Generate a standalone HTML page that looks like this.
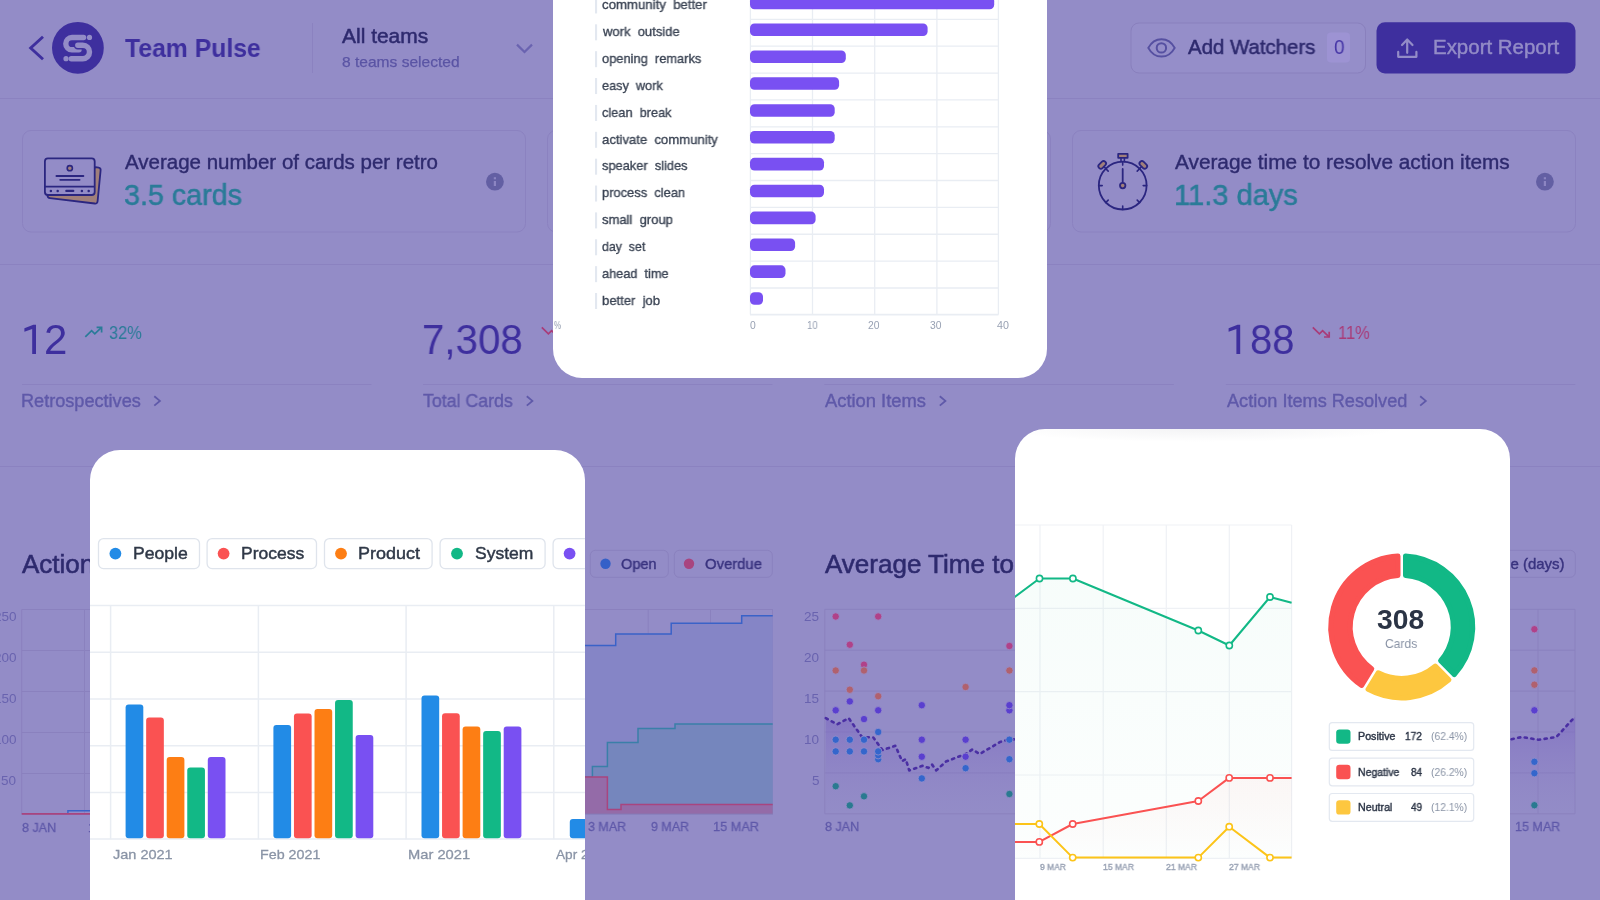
<!DOCTYPE html>
<html><head><meta charset="utf-8"><title>Team Pulse</title>
<style>
html,body{margin:0;padding:0}
body{width:1600px;height:900px;overflow:hidden;background:#938cc7;position:relative;font-family:"Liberation Sans",sans-serif}
.t{position:absolute;white-space:pre;line-height:1;transform-origin:0 0;display:block;will-change:transform}
svg.l{position:absolute;left:0;top:0;width:1600px;height:900px;overflow:visible}
i.mk{display:inline-block;width:0;height:0}
.panel{position:absolute;overflow:hidden;background:#fff}
.panel>.in{position:absolute;width:1600px;height:900px}
#p1{left:553px;top:-40px;width:494.4px;height:418.2px;border-radius:0 0 29px 29px}
#p1>.in{left:-553px;top:40px}
#p2{left:90px;top:450px;width:495px;height:460px;border-radius:30px 30px 0 0}
#p2>.in{left:-90px;top:-450px}
#p3{left:1015px;top:429.3px;width:495.3px;height:480px;border-radius:30px 30px 0 0}
#p3>.in{left:-1015px;top:-429.3px}
</style></head><body>
<svg class="l" viewBox="0 0 1600 900"><defs><linearGradient id="gtrend" x1="0" y1="0" x2="0" y2="1"><stop offset="0" stop-color="#7a66c0" stop-opacity=".55"/><stop offset="1" stop-color="#8a7cc4" stop-opacity="0"/></linearGradient><linearGradient id="ggreen" x1="0" y1="0" x2="0" y2="1"><stop offset="0" stop-color="#12b886" stop-opacity=".035"/><stop offset="1" stop-color="#12b886" stop-opacity=".012"/></linearGradient><linearGradient id="gred" x1="0" y1="0" x2="0" y2="1"><stop offset="0" stop-color="#fa5252" stop-opacity=".045"/><stop offset="1" stop-color="#fa5252" stop-opacity="0"/></linearGradient></defs>
<line x1="0" y1="98.5" x2="1600" y2="98.5" stroke="#8b82c0" stroke-width="1"/>
<polyline points="43,36.8 30.7,48 43,59.2" fill="none" stroke="#3e2f9e" stroke-width="2.9"/>
<circle cx="77.9" cy="47.8" r="25.9" fill="#3e2f9e"/>
<g fill="none" stroke-linecap="round" stroke-width="5.4"><path d="M83.6,37.5 H71.95 A6.15,6.15 0 0 0 71.95,49.8 H79" stroke="#938cc7"/><path d="M71.3,58.7 H82.75 A6.75,6.75 0 0 0 82.75,45.2 H77.8" stroke="#3e2f9e" stroke-width="8.4"/><path d="M71.3,58.7 H82.75 A6.75,6.75 0 0 0 82.75,45.2 H77.8" stroke="#938cc7"/></g>
<circle cx="89.5" cy="37.4" r="2.6" fill="#938cc7"/><circle cx="66" cy="58.7" r="2.6" fill="#938cc7"/>
<line x1="312.5" y1="23" x2="312.5" y2="73" stroke="#8b82c0" stroke-width="1"/>
<polyline points="517,44.6 524.5,52 532,44.6" fill="none" stroke="#6a63b0" stroke-width="2.2"/>
<rect x="1131" y="23" width="234.5" height="50" rx="8" fill="#958ec9" stroke="#8980bd" stroke-width="1"/>
<g fill="none" stroke="#5650a1" stroke-width="2"><path d="M1148.3,47.9 C1152,41 1157,39.2 1161.5,39.2 C1166,39.2 1171,41 1174.7,47.9 C1171,54.8 1166,56.6 1161.5,56.6 C1157,56.6 1152,54.8 1148.3,47.9 Z"/><circle cx="1161.4" cy="47.9" r="4.7"/></g>
<rect x="1327" y="32.5" width="23" height="30" rx="4" fill="#9d93d3"/>
<rect x="1376.5" y="22.3" width="199" height="51.2" rx="8.5" fill="#3e2f9e"/>
<g fill="none" stroke="#938cc7" stroke-width="2.2" stroke-linejoin="round" stroke-linecap="round"><path d="M1407.2,52.8 V39.6 M1402,45 L1407.2,39.6 L1412.5,45"/><path d="M1398.2,51.9 V56.8 H1416.4 V51.9"/></g>
<rect x="22.5" y="130.5" width="503" height="101.5" rx="8.5" fill="none" stroke="#8b82c0" stroke-width="1"/>
<rect x="547.5" y="130.5" width="503" height="101.5" rx="8.5" fill="none" stroke="#8b82c0" stroke-width="1"/>
<rect x="1072.5" y="130.5" width="503" height="101.5" rx="8.5" fill="none" stroke="#8b82c0" stroke-width="1"/>
<line x1="0" y1="264.5" x2="1600" y2="264.5" stroke="#8b82c0" stroke-width="1"/>
<line x1="0" y1="466.5" x2="1600" y2="466.5" stroke="#8b82c0" stroke-width="1"/>
<g stroke="#2b2680" stroke-width="1.8" stroke-linejoin="round"><path d="M95.6,167.2 L98.6,167.6 Q100.9,168 100.6,170.4 L97.6,201.2 Q97.3,203.8 94.8,203.5 L50,198.2 Q47.6,197.9 47.5,195.8 Z" fill="#a07f7b"/><rect x="44.9" y="158.4" width="49.8" height="36.6" rx="3" fill="#938cc7"/><line x1="44.9" y1="186.6" x2="94.7" y2="186.6"/><circle cx="69.8" cy="168.2" r="2.6" fill="#a07f7b" stroke-width="1.6"/><line x1="56.4" y1="176" x2="83.4" y2="176" stroke-linecap="round" stroke-width="1.8"/><line x1="60.2" y1="179.8" x2="79.6" y2="179.8" stroke-linecap="round" stroke-width="1.8"/><line x1="66.3" y1="190.9" x2="73.3" y2="190.9" stroke-linecap="round" stroke-width="2.2"/></g>
<circle cx="50.9" cy="190.9" r="1.25" fill="#2b2680"/>
<circle cx="57.7" cy="190.9" r="1.25" fill="#2b2680"/>
<circle cx="81.9" cy="190.9" r="1.25" fill="#2b2680"/>
<circle cx="88.7" cy="190.9" r="1.25" fill="#2b2680"/>
<circle cx="494.9" cy="181.7" r="8.9" fill="#635fa3"/><rect x="493.79999999999995" y="181" width="2.2" height="5" fill="#8c85c2"/><rect x="493.79999999999995" y="177.2" width="2.2" height="2.1" fill="#8c85c2"/>
<circle cx="1544.9" cy="181.7" r="8.9" fill="#635fa3"/><rect x="1543.8000000000002" y="181" width="2.2" height="5" fill="#8c85c2"/><rect x="1543.8000000000002" y="177.2" width="2.2" height="2.1" fill="#8c85c2"/>
<g stroke="#2b2680" stroke-width="1.8" fill="none" stroke-linecap="round"><circle cx="1122.7" cy="185.6" r="23.9"/><rect x="1118.2" y="153.8" width="9.4" height="4" fill="#a07f7b" stroke-linejoin="round"/><path d="M1121,158.5 V161.6 M1124.4,158.5 V161.6" stroke-width="1.6"/><line x1="1122.7" y1="168.9" x2="1122.7" y2="181.8"/><circle cx="1122.7" cy="185.6" r="2.7" fill="#a07f7b"/><line x1="1143.2" y1="185.6" x2="1146.6" y2="185.6" stroke-width="1.6"/><line x1="1137.2" y1="200.1" x2="1139.6" y2="202.5" stroke-width="1.6"/><line x1="1122.7" y1="206.1" x2="1122.7" y2="209.5" stroke-width="1.6"/><line x1="1108.2" y1="200.1" x2="1105.8" y2="202.5" stroke-width="1.6"/><line x1="1102.2" y1="185.6" x2="1098.8" y2="185.6" stroke-width="1.6"/><line x1="1108.2" y1="171.1" x2="1105.8" y2="168.7" stroke-width="1.6"/><line x1="1122.7" y1="165.1" x2="1122.7" y2="161.7" stroke-width="1.6"/><line x1="1137.2" y1="171.1" x2="1139.6" y2="168.7" stroke-width="1.6"/><g transform="translate(1102.2,164.9) rotate(-45)"><rect x="-4.3" y="-2.4" width="8.6" height="4.8" rx="2.2" fill="#a07f7b"/><line x1="0" y1="2.6" x2="0" y2="6" stroke-width="1.6"/></g><g transform="translate(1143.3,164.9) rotate(45)"><rect x="-4.3" y="-2.4" width="8.6" height="4.8" rx="2.2" fill="#a07f7b"/><line x1="0" y1="2.6" x2="0" y2="6" stroke-width="1.6"/></g></g>
<polygon points="36,324.7 33.4,324.7 24.4,328.3 24.4,331.8 32.2,328.9 32.2,353.9 36,353.9" fill="#3e2f9e"/>
<polygon points="1240.2,324.7 1237.6000000000001,324.7 1228.6000000000001,328.3 1228.6000000000001,331.8 1236.4,328.9 1236.4,353.9 1240.2,353.9" fill="#3e2f9e"/>
<line x1="22" y1="384.5" x2="371.5" y2="384.5" stroke="#8b82c0" stroke-width="1"/>
<line x1="423" y1="384.5" x2="772.5" y2="384.5" stroke="#8b82c0" stroke-width="1"/>
<line x1="824.3" y1="384.5" x2="1173.8" y2="384.5" stroke="#8b82c0" stroke-width="1"/>
<line x1="1225.8" y1="384.5" x2="1575.3" y2="384.5" stroke="#8b82c0" stroke-width="1"/>
<g fill="none" stroke="#2a7b98" stroke-width="1.7"><polyline points="85.3,336.8 91.6,330.6 94.8,333.8 101.3,327.6"/><polyline points="96.6,327.4 101.6,327.4 101.6,332.4"/></g>
<g fill="none" stroke="#a93b78" stroke-width="1.7"><polyline points="1312.8,327.4 1319.4,333.8 1322.6,330.6 1329,336.9"/><polyline points="1324,337 1329.2,337 1329.2,331.8"/><polyline points="541.8,327.4 548.4,333.8 551.6,330.6 558,336.9"/></g>
<polyline points="154.3,396.2 159.9,400.9 154.3,405.6" fill="none" stroke="#5f59a9" stroke-width="1.8"/>
<polyline points="526.8,396.2 532.4,400.9 526.8,405.6" fill="none" stroke="#5f59a9" stroke-width="1.8"/>
<polyline points="939.8,396.2 945.4,400.9 939.8,405.6" fill="none" stroke="#5f59a9" stroke-width="1.8"/>
<polyline points="1420.2,396.2 1425.8,400.9 1420.2,405.6" fill="none" stroke="#5f59a9" stroke-width="1.8"/>
<line x1="21.7" y1="609.5" x2="773" y2="609.5" stroke="#8a81be" stroke-width="1"/>
<line x1="21.7" y1="650.5" x2="773" y2="650.5" stroke="#8a81be" stroke-width="1"/>
<line x1="21.7" y1="691.5" x2="773" y2="691.5" stroke="#8a81be" stroke-width="1"/>
<line x1="21.7" y1="732.5" x2="773" y2="732.5" stroke="#8a81be" stroke-width="1"/>
<line x1="21.7" y1="773.5" x2="773" y2="773.5" stroke="#8a81be" stroke-width="1"/>
<line x1="21.7" y1="814.5" x2="773" y2="814.5" stroke="#8a81be" stroke-width="1"/>
<line x1="21.7" y1="609.5" x2="21.7" y2="814" stroke="#8a81be" stroke-width="1"/>
<line x1="84.5" y1="609.5" x2="84.5" y2="814" stroke="#8a81be" stroke-width="1"/>
<line x1="648.2" y1="609.5" x2="648.2" y2="814" stroke="#8a81be" stroke-width="1"/>
<line x1="710.5" y1="609.5" x2="710.5" y2="814" stroke="#8a81be" stroke-width="1"/>
<line x1="772.5" y1="609.5" x2="772.5" y2="814" stroke="#8a81be" stroke-width="1"/>
<polyline points="67.9,814 67.9,810.7 92,810.7" fill="none" stroke="#3a62c8" stroke-width="1.4"/>
<line x1="21.7" y1="813.9" x2="92" y2="813.9" stroke="#a8457f" stroke-width="1.6"/>
<rect x="590.3" y="550.3" width="78" height="27" rx="5" fill="none" stroke="#8a81be" stroke-width="1"/><circle cx="605.5" cy="563.7" r="5.2" fill="#3560c8"/>
<rect x="674.3" y="550.3" width="98" height="27" rx="5" fill="none" stroke="#8a81be" stroke-width="1"/><circle cx="689" cy="563.7" r="5.2" fill="#a8457f"/>
<polygon points="560,645.4 615.7,645.4 615.7,634 671.2,634 671.2,623.2 741.7,623.2 741.7,615.7 772.7,615.7 772.7,813.7 560,813.7" fill="#8585c6"/><polyline points="560,645.4 615.7,645.4 615.7,634 671.2,634 671.2,623.2 741.7,623.2 741.7,615.7 772.7,615.7" fill="none" stroke="#3a62c8" stroke-width="1.5"/>
<polygon points="560,777 592.4,777 592.4,766.6 607.4,766.6 607.4,742.4 638,742.4 638,728.6 675,728.6 675,724 772.7,724 772.7,813.7 560,813.7" fill="#7586bd"/><polyline points="560,777 592.4,777 592.4,766.6 607.4,766.6 607.4,742.4 638,742.4 638,728.6 675,728.6 675,724 772.7,724" fill="none" stroke="#3a7fa8" stroke-width="1.5"/>
<polygon points="560,777 607.4,777 607.4,809.4 621,809.4 621,804.6 772.7,804.6 772.7,813.7 560,813.7" fill="#946ba8"/><polyline points="560,777 607.4,777 607.4,809.4 621,809.4 621,804.6 772.7,804.6" fill="none" stroke="#a8457f" stroke-width="1.5"/>
<line x1="824.8" y1="609.3" x2="1575" y2="609.3" stroke="#8a81be" stroke-width="1"/>
<line x1="824.8" y1="650.2" x2="1575" y2="650.2" stroke="#8a81be" stroke-width="1"/>
<line x1="824.8" y1="691.1" x2="1575" y2="691.1" stroke="#8a81be" stroke-width="1"/>
<line x1="824.8" y1="732" x2="1575" y2="732" stroke="#8a81be" stroke-width="1"/>
<line x1="824.8" y1="772.9" x2="1575" y2="772.9" stroke="#8a81be" stroke-width="1"/>
<line x1="824.8" y1="813.8" x2="1575" y2="813.8" stroke="#8a81be" stroke-width="1"/>
<line x1="824.8" y1="609.3" x2="824.8" y2="813.7" stroke="#8a81be" stroke-width="1"/>
<line x1="1538" y1="609.3" x2="1538" y2="813.7" stroke="#8a81be" stroke-width="1"/>
<line x1="1575" y1="609.3" x2="1575" y2="813.7" stroke="#8a81be" stroke-width="1"/>
<polygon points="825.8,718.2 837.1,724.3 848.75,718.2 862,737 873.3,737.5 882.5,750 895.4,745.8 902.1,761.2 905.8,759.2 909.2,770.4 922.5,765.8 928.3,767.9 932.1,764.6 936.25,770.4 946,761.5 965.5,754 972.2,749.5 979.7,754 1000,742 1009.7,739 1020,740 1020,813.7 825.8,813.7" fill="url(#gtrend)"/>
<polyline points="825.8,718.2 837.1,724.3 848.75,718.2 862,737 873.3,737.5 882.5,750 895.4,745.8 902.1,761.2 905.8,759.2 909.2,770.4 922.5,765.8 928.3,767.9 932.1,764.6 936.25,770.4 946,761.5 965.5,754 972.2,749.5 979.7,754 1000,742 1009.7,739 1020,740" fill="none" stroke="#4a2fa3" stroke-width="2.6" stroke-dasharray="2.2 4.5" stroke-linecap="round" stroke-linejoin="round"/>
<polygon points="1505,740.5 1522,737 1538.7,739.8 1556.4,737 1575,716.7 1575,813.7 1505,813.7" fill="url(#gtrend)"/>
<polyline points="1505,740.5 1522,737 1538.7,739.8 1556.4,737 1575,716.7" fill="none" stroke="#4a2fa3" stroke-width="2.6" stroke-dasharray="2.2 4.5" stroke-linecap="round" stroke-linejoin="round"/>
<circle cx="835.7" cy="616.5" r="3.7" fill="#b04289" stroke="#988fca" stroke-width="0.8"/>
<circle cx="878.2" cy="616.5" r="3.7" fill="#b04289" stroke="#988fca" stroke-width="0.8"/>
<circle cx="849.8" cy="644.7" r="3.7" fill="#b04289" stroke="#988fca" stroke-width="0.8"/>
<circle cx="864" cy="664.7" r="3.7" fill="#b04289" stroke="#988fca" stroke-width="0.8"/>
<circle cx="1009.4" cy="646" r="3.7" fill="#b04289" stroke="#988fca" stroke-width="0.8"/>
<circle cx="835.7" cy="670.5" r="3.7" fill="#b0616e" stroke="#988fca" stroke-width="0.8"/>
<circle cx="864" cy="670.5" r="3.7" fill="#b0616e" stroke="#988fca" stroke-width="0.8"/>
<circle cx="849.8" cy="689.7" r="3.7" fill="#b0616e" stroke="#988fca" stroke-width="0.8"/>
<circle cx="878.2" cy="696.2" r="3.7" fill="#b0616e" stroke="#988fca" stroke-width="0.8"/>
<circle cx="965.6" cy="687" r="3.7" fill="#b0616e" stroke="#988fca" stroke-width="0.8"/>
<circle cx="1009.4" cy="670.5" r="3.7" fill="#b0616e" stroke="#988fca" stroke-width="0.8"/>
<circle cx="835.7" cy="710.3" r="3.7" fill="#5a3fcf" stroke="#988fca" stroke-width="0.8"/>
<circle cx="849.8" cy="701.4" r="3.7" fill="#5a3fcf" stroke="#988fca" stroke-width="0.8"/>
<circle cx="864" cy="719.1" r="3.7" fill="#5a3fcf" stroke="#988fca" stroke-width="0.8"/>
<circle cx="878.2" cy="710.3" r="3.7" fill="#5a3fcf" stroke="#988fca" stroke-width="0.8"/>
<circle cx="921.8" cy="705.2" r="3.7" fill="#5a3fcf" stroke="#988fca" stroke-width="0.8"/>
<circle cx="921.8" cy="739.7" r="3.7" fill="#5a3fcf" stroke="#988fca" stroke-width="0.8"/>
<circle cx="921.8" cy="756.7" r="3.7" fill="#5a3fcf" stroke="#988fca" stroke-width="0.8"/>
<circle cx="965.6" cy="739.7" r="3.7" fill="#5a3fcf" stroke="#988fca" stroke-width="0.8"/>
<circle cx="965.6" cy="756.7" r="3.7" fill="#5a3fcf" stroke="#988fca" stroke-width="0.8"/>
<circle cx="1009.4" cy="710.3" r="3.7" fill="#5a3fcf" stroke="#988fca" stroke-width="0.8"/>
<circle cx="1009.4" cy="705.2" r="3.7" fill="#5a3fcf" stroke="#988fca" stroke-width="0.8"/>
<circle cx="835.7" cy="739.7" r="3.7" fill="#3466cc" stroke="#988fca" stroke-width="0.8"/>
<circle cx="849.8" cy="739.7" r="3.7" fill="#3466cc" stroke="#988fca" stroke-width="0.8"/>
<circle cx="864" cy="739.7" r="3.7" fill="#3466cc" stroke="#988fca" stroke-width="0.8"/>
<circle cx="835.7" cy="751.4" r="3.7" fill="#3466cc" stroke="#988fca" stroke-width="0.8"/>
<circle cx="849.8" cy="751.4" r="3.7" fill="#3466cc" stroke="#988fca" stroke-width="0.8"/>
<circle cx="864" cy="751.4" r="3.7" fill="#3466cc" stroke="#988fca" stroke-width="0.8"/>
<circle cx="878.2" cy="732" r="3.7" fill="#3466cc" stroke="#988fca" stroke-width="0.8"/>
<circle cx="878.2" cy="759.2" r="3.7" fill="#3466cc" stroke="#988fca" stroke-width="0.8"/>
<circle cx="878.2" cy="755.2" r="3.7" fill="#3466cc" stroke="#988fca" stroke-width="0.8"/>
<circle cx="878.2" cy="751.4" r="3.7" fill="#3466cc" stroke="#988fca" stroke-width="0.8"/>
<circle cx="921.8" cy="778.4" r="3.7" fill="#3466cc" stroke="#988fca" stroke-width="0.8"/>
<circle cx="965.6" cy="768.2" r="3.7" fill="#3466cc" stroke="#988fca" stroke-width="0.8"/>
<circle cx="1009.4" cy="739.7" r="3.7" fill="#3466cc" stroke="#988fca" stroke-width="0.8"/>
<circle cx="1009.4" cy="759.2" r="3.7" fill="#3466cc" stroke="#988fca" stroke-width="0.8"/>
<circle cx="835.7" cy="786.2" r="3.7" fill="#2a7a90" stroke="#988fca" stroke-width="0.8"/>
<circle cx="849.8" cy="805.4" r="3.7" fill="#2a7a90" stroke="#988fca" stroke-width="0.8"/>
<circle cx="864" cy="796.3" r="3.7" fill="#2a7a90" stroke="#988fca" stroke-width="0.8"/>
<circle cx="1009.4" cy="794" r="3.7" fill="#2a7a90" stroke="#988fca" stroke-width="0.8"/>
<circle cx="1534.4" cy="629.2" r="3.7" fill="#b04289" stroke="#988fca" stroke-width="0.8"/>
<circle cx="1534.4" cy="670.4" r="3.7" fill="#b0616e" stroke="#988fca" stroke-width="0.8"/>
<circle cx="1534.4" cy="684.7" r="3.7" fill="#b0616e" stroke="#988fca" stroke-width="0.8"/>
<circle cx="1534.4" cy="710.3" r="3.7" fill="#5a3fcf" stroke="#988fca" stroke-width="0.8"/>
<circle cx="1534.4" cy="761.8" r="3.7" fill="#3466cc" stroke="#988fca" stroke-width="0.8"/>
<circle cx="1534.4" cy="773.2" r="3.7" fill="#3466cc" stroke="#988fca" stroke-width="0.8"/>
<circle cx="1534.4" cy="805.2" r="3.7" fill="#2a7a90" stroke="#988fca" stroke-width="0.8"/>
<rect x="1440" y="550.3" width="135.3" height="27" rx="5" fill="none" stroke="#8a81be" stroke-width="1"/>
</svg>
<span class="t" id="t0" style="left:125.00px;top:35.00px;font-size:26px;color:#3e2f9e;font-weight:700;transform:scaleX(0.9520);">Team Pulse</span>
<span class="t" id="t1" style="left:341.86px;top:26.00px;font-size:20.5px;color:#2e2a6e;-webkit-text-stroke:0.5px #2e2a6e;transform:scaleX(1.0230);">All teams</span>
<span class="t" id="t2" style="left:342.13px;top:54.00px;font-size:15px;color:#5a54a4;-webkit-text-stroke:0.25px #5a54a4;transform:scaleX(1.0371);">8 teams selected</span>
<span class="t" id="t3" style="left:1188.25px;top:37.40px;font-size:20.5px;color:#2e2a6e;-webkit-text-stroke:0.5px #2e2a6e;transform:scaleX(0.9950);">Add Watchers</span>
<span class="t" id="t4" style="left:1333.60px;top:37.40px;font-size:20.5px;color:#4535a6;transform:scaleX(0.9273);">0</span>
<span class="t" id="t5" style="left:1432.91px;top:37.30px;font-size:20px;color:#938cc7;-webkit-text-stroke:0.45px #938cc7;transform:scaleX(1.0229);">Export Report</span>
<span class="t" id="t6" style="left:125.20px;top:152.20px;font-size:20.5px;color:#2e2a6e;-webkit-text-stroke:0.4px #2e2a6e;">Average number of cards per retro</span>
<span class="t" id="t7" style="left:124.28px;top:180.30px;font-size:30px;color:#2a7b98;-webkit-text-stroke:0.5px #2a7b98;transform:scaleX(0.9557);">3.5 cards</span>
<span class="t" id="t8" style="left:1174.80px;top:152.20px;font-size:20.5px;color:#2e2a6e;-webkit-text-stroke:0.4px #2e2a6e;transform:scaleX(1.0142);">Average time to resolve action items</span>
<span class="t" id="t9" style="left:1173.80px;top:180.30px;font-size:30px;color:#2a7b98;-webkit-text-stroke:0.5px #2a7b98;transform:scaleX(0.9692);">11.3 days</span>
<span class="t" id="t10" style="left:44.10px;top:319.00px;font-size:42px;color:#3e2f9e;">2</span>
<span class="t" id="t11" style="left:422.08px;top:319.00px;font-size:42px;color:#3e2f9e;transform:scaleX(0.9583);">7,308</span>
<span class="t" id="t12" style="left:1249.85px;top:319.00px;font-size:42px;color:#3e2f9e;transform:scaleX(0.9536);">88</span>
<span class="t" id="t13" style="left:109.00px;top:323.80px;font-size:18px;color:#2a7b98;transform:scaleX(0.9106);">32%</span>
<span class="t" id="t14" style="left:1337.59px;top:323.80px;font-size:18px;color:#a93b78;transform:scaleX(0.9143);">11%</span>
<span class="t" id="t15" style="left:20.99px;top:392.10px;font-size:18px;color:#5f59a9;-webkit-text-stroke:0.4px #5f59a9;transform:scaleX(1.0064);">Retrospectives</span>
<span class="t" id="t16" style="left:423.20px;top:392.10px;font-size:18px;color:#5f59a9;-webkit-text-stroke:0.4px #5f59a9;transform:scaleX(0.9865);">Total Cards</span>
<span class="t" id="t17" style="left:825.00px;top:392.10px;font-size:18px;color:#5f59a9;-webkit-text-stroke:0.4px #5f59a9;transform:scaleX(1.0198);">Action Items</span>
<span class="t" id="t18" style="left:1226.50px;top:392.10px;font-size:18px;color:#5f59a9;-webkit-text-stroke:0.4px #5f59a9;transform:scaleX(1.0069);">Action Items Resolved</span>
<span class="t" id="t19" style="left:22.27px;top:551.00px;font-size:26px;color:#2e2a6e;-webkit-text-stroke:0.55px #2e2a6e;">Action Items</span>
<span class="t" id="t20" style="left:-6.32px;top:609.60px;font-size:13.5px;color:#6963af;">250</span>
<span class="t" id="t21" style="left:-6.32px;top:650.60px;font-size:13.5px;color:#6963af;">200</span>
<span class="t" id="t22" style="left:-6.32px;top:691.60px;font-size:13.5px;color:#6963af;">150</span>
<span class="t" id="t23" style="left:-6.32px;top:732.60px;font-size:13.5px;color:#6963af;">100</span>
<span class="t" id="t24" style="left:1.19px;top:773.60px;font-size:13.5px;color:#6963af;">50</span>
<span class="t" id="t25" style="left:22.04px;top:820.50px;font-size:13px;color:#5f59a9;-webkit-text-stroke:0.3px #5f59a9;transform:scaleX(0.9657);">8 JAN</span>
<span class="t" id="t26" style="left:87.75px;top:820.50px;font-size:13px;color:#5f59a9;-webkit-text-stroke:0.3px #5f59a9;">14</span>
<span class="t" id="t27" style="left:621.39px;top:555.60px;font-size:15px;color:#39337f;-webkit-text-stroke:0.4px #39337f;transform:scaleX(0.9687);">Open</span>
<span class="t" id="t28" style="left:705.00px;top:555.60px;font-size:15px;color:#39337f;-webkit-text-stroke:0.4px #39337f;transform:scaleX(0.9898);">Overdue</span>
<span class="t" id="t29" style="left:587.64px;top:820.20px;font-size:13px;color:#5f59a9;-webkit-text-stroke:0.3px #5f59a9;transform:scaleX(0.9611);">3 MAR</span>
<span class="t" id="t30" style="left:650.54px;top:820.20px;font-size:13px;color:#5f59a9;-webkit-text-stroke:0.3px #5f59a9;transform:scaleX(0.9586);">9 MAR</span>
<span class="t" id="t31" style="left:713.15px;top:820.20px;font-size:13px;color:#5f59a9;-webkit-text-stroke:0.3px #5f59a9;transform:scaleX(0.9814);">15 MAR</span>
<span class="t" id="t32" style="left:825.07px;top:551.00px;font-size:26px;color:#2e2a6e;-webkit-text-stroke:0.55px #2e2a6e;">Average Time to Resolve</span>
<span class="t" id="t33" style="left:804.29px;top:609.60px;font-size:13.5px;color:#6963af;">25</span>
<span class="t" id="t34" style="left:804.29px;top:650.60px;font-size:13.5px;color:#6963af;">20</span>
<span class="t" id="t35" style="left:804.29px;top:691.60px;font-size:13.5px;color:#6963af;">15</span>
<span class="t" id="t36" style="left:804.29px;top:732.60px;font-size:13.5px;color:#6963af;">10</span>
<span class="t" id="t37" style="left:811.80px;top:773.60px;font-size:13.5px;color:#6963af;">5</span>
<span class="t" id="t38" style="left:825.04px;top:820.20px;font-size:13px;color:#5f59a9;-webkit-text-stroke:0.3px #5f59a9;transform:scaleX(0.9657);">8 JAN</span>
<span class="t" id="t39" style="left:1514.94px;top:820.20px;font-size:13px;color:#5f59a9;-webkit-text-stroke:0.3px #5f59a9;transform:scaleX(0.9643);">15 MAR</span>
<span class="t" id="t40" style="left:1485.78px;top:555.80px;font-size:15px;color:#39337f;-webkit-text-stroke:0.4px #39337f;">Time (days)</span>
<div class="panel" id="p1"><div class="in"><svg class="l" viewBox="0 0 1600 900">
<line x1="750" y1="-7.57" x2="998.5" y2="-7.57" stroke="#e9edf3" stroke-width="1.3"/>
<line x1="750" y1="19.3" x2="998.5" y2="19.3" stroke="#e9edf3" stroke-width="1.3"/>
<line x1="750" y1="46.17" x2="998.5" y2="46.17" stroke="#e9edf3" stroke-width="1.3"/>
<line x1="750" y1="73.04" x2="998.5" y2="73.04" stroke="#e9edf3" stroke-width="1.3"/>
<line x1="750" y1="99.91" x2="998.5" y2="99.91" stroke="#e9edf3" stroke-width="1.3"/>
<line x1="750" y1="126.78" x2="998.5" y2="126.78" stroke="#e9edf3" stroke-width="1.3"/>
<line x1="750" y1="153.65" x2="998.5" y2="153.65" stroke="#e9edf3" stroke-width="1.3"/>
<line x1="750" y1="180.52" x2="998.5" y2="180.52" stroke="#e9edf3" stroke-width="1.3"/>
<line x1="750" y1="207.39" x2="998.5" y2="207.39" stroke="#e9edf3" stroke-width="1.3"/>
<line x1="750" y1="234.26" x2="998.5" y2="234.26" stroke="#e9edf3" stroke-width="1.3"/>
<line x1="750" y1="261.13" x2="998.5" y2="261.13" stroke="#e9edf3" stroke-width="1.3"/>
<line x1="750" y1="288" x2="998.5" y2="288" stroke="#e9edf3" stroke-width="1.3"/>
<line x1="750" y1="314.87" x2="998.5" y2="314.87" stroke="#e9edf3" stroke-width="1.3"/>
<line x1="750" y1="314.4" x2="998.5" y2="314.4" stroke="#e9edf3" stroke-width="1.3"/>
<line x1="750.4" y1="-5" x2="750.4" y2="314.4" stroke="#e9edf3" stroke-width="1.3"/>
<line x1="812.5" y1="-5" x2="812.5" y2="314.4" stroke="#e9edf3" stroke-width="1.3"/>
<line x1="874.7" y1="-5" x2="874.7" y2="314.4" stroke="#e9edf3" stroke-width="1.3"/>
<line x1="936.9" y1="-5" x2="936.9" y2="314.4" stroke="#e9edf3" stroke-width="1.3"/>
<line x1="998.4" y1="-5" x2="998.4" y2="314.4" stroke="#e9edf3" stroke-width="1.3"/>
<rect x="750" y="-3.35" width="244.2" height="12.6" rx="4.5" fill="#7950f2"/>
<rect x="595" y="-2.55" width="2.1" height="16" fill="#e3e8f0"/>
<rect x="750" y="23.52" width="177.6" height="12.6" rx="4.5" fill="#7950f2"/>
<rect x="595" y="24.32" width="2.1" height="16" fill="#e3e8f0"/>
<rect x="750" y="50.39" width="95.8" height="12.6" rx="4.5" fill="#7950f2"/>
<rect x="595" y="51.19" width="2.1" height="16" fill="#e3e8f0"/>
<rect x="750" y="77.26" width="89.1" height="12.6" rx="4.5" fill="#7950f2"/>
<rect x="595" y="78.06" width="2.1" height="16" fill="#e3e8f0"/>
<rect x="750" y="104.13" width="84.7" height="12.6" rx="4.5" fill="#7950f2"/>
<rect x="595" y="104.93" width="2.1" height="16" fill="#e3e8f0"/>
<rect x="750" y="131" width="84.7" height="12.6" rx="4.5" fill="#7950f2"/>
<rect x="595" y="131.8" width="2.1" height="16" fill="#e3e8f0"/>
<rect x="750" y="157.87" width="74" height="12.6" rx="4.5" fill="#7950f2"/>
<rect x="595" y="158.67" width="2.1" height="16" fill="#e3e8f0"/>
<rect x="750" y="184.74" width="74" height="12.6" rx="4.5" fill="#7950f2"/>
<rect x="595" y="185.54" width="2.1" height="16" fill="#e3e8f0"/>
<rect x="750" y="211.61" width="65.6" height="12.6" rx="4.5" fill="#7950f2"/>
<rect x="595" y="212.41" width="2.1" height="16" fill="#e3e8f0"/>
<rect x="750" y="238.48" width="45.1" height="12.6" rx="4.5" fill="#7950f2"/>
<rect x="595" y="239.28" width="2.1" height="16" fill="#e3e8f0"/>
<rect x="750" y="265.35" width="35.5" height="12.6" rx="4.5" fill="#7950f2"/>
<rect x="595" y="266.15" width="2.1" height="16" fill="#e3e8f0"/>
<rect x="750" y="292.22" width="13" height="12.6" rx="4.5" fill="#7950f2"/>
<rect x="595" y="293.02" width="2.1" height="16" fill="#e3e8f0"/>
</svg><span class="t" id="t41" style="left:602.37px;top:-1.80px;font-size:13.3px;color:#3b4454;-webkit-text-stroke:0.35px #3b4454;word-spacing:3.7px;transform:scaleX(0.9925);">community better</span>
<span class="t" id="t42" style="left:603.35px;top:25.07px;font-size:13.3px;color:#3b4454;-webkit-text-stroke:0.35px #3b4454;word-spacing:3.7px;transform:scaleX(0.9786);">work outside</span>
<span class="t" id="t43" style="left:602.37px;top:51.94px;font-size:13.3px;color:#3b4454;-webkit-text-stroke:0.35px #3b4454;word-spacing:3.7px;transform:scaleX(0.9667);">opening remarks</span>
<span class="t" id="t44" style="left:602.37px;top:78.81px;font-size:13.3px;color:#3b4454;-webkit-text-stroke:0.35px #3b4454;word-spacing:3.7px;transform:scaleX(0.9555);">easy work</span>
<span class="t" id="t45" style="left:602.37px;top:105.68px;font-size:13.3px;color:#3b4454;-webkit-text-stroke:0.35px #3b4454;word-spacing:3.7px;transform:scaleX(0.9597);">clean break</span>
<span class="t" id="t46" style="left:602.37px;top:132.55px;font-size:13.3px;color:#3b4454;-webkit-text-stroke:0.35px #3b4454;word-spacing:3.7px;transform:scaleX(0.9856);">activate community</span>
<span class="t" id="t47" style="left:602.37px;top:159.42px;font-size:13.3px;color:#3b4454;-webkit-text-stroke:0.35px #3b4454;word-spacing:3.7px;transform:scaleX(0.9642);">speaker slides</span>
<span class="t" id="t48" style="left:602.37px;top:186.29px;font-size:13.3px;color:#3b4454;-webkit-text-stroke:0.35px #3b4454;word-spacing:3.7px;transform:scaleX(0.9697);">process clean</span>
<span class="t" id="t49" style="left:602.37px;top:213.16px;font-size:13.3px;color:#3b4454;-webkit-text-stroke:0.35px #3b4454;word-spacing:3.7px;transform:scaleX(0.9781);">small group</span>
<span class="t" id="t50" style="left:602.36px;top:240.03px;font-size:13.3px;color:#3b4454;-webkit-text-stroke:0.35px #3b4454;word-spacing:3.7px;transform:scaleX(0.9274);">day set</span>
<span class="t" id="t51" style="left:602.37px;top:266.90px;font-size:13.3px;color:#3b4454;-webkit-text-stroke:0.35px #3b4454;word-spacing:3.7px;transform:scaleX(0.9590);">ahead time</span>
<span class="t" id="t52" style="left:602.37px;top:293.77px;font-size:13.3px;color:#3b4454;-webkit-text-stroke:0.35px #3b4454;word-spacing:3.7px;transform:scaleX(0.9815);">better job</span>
<span class="t" id="t53" style="left:750.20px;top:320.60px;font-size:10.3px;color:#98a1b3;transform:scaleX(0.9333);">0</span>
<span class="t" id="t54" style="left:806.70px;top:320.60px;font-size:10.3px;color:#98a1b3;transform:scaleX(0.9295);">10</span>
<span class="t" id="t55" style="left:868.20px;top:320.60px;font-size:10.3px;color:#98a1b3;transform:scaleX(0.9892);">20</span>
<span class="t" id="t56" style="left:930.40px;top:320.60px;font-size:10.3px;color:#98a1b3;transform:scaleX(0.9892);">30</span>
<span class="t" id="t57" style="left:996.60px;top:320.60px;font-size:10.3px;color:#98a1b3;transform:scaleX(1.0404);">40</span>
<span class="t" id="t58" style="left:553.60px;top:320.60px;font-size:10.3px;color:#98a1b3;transform:scaleX(0.7667);">%</span></div></div>
<div class="panel" id="p2"><div class="in"><svg class="l" viewBox="0 0 1600 900">
<line x1="90" y1="605.6" x2="585" y2="605.6" stroke="#e9edf3" stroke-width="1.5"/>
<line x1="90" y1="652.3" x2="585" y2="652.3" stroke="#e9edf3" stroke-width="1.5"/>
<line x1="90" y1="699" x2="585" y2="699" stroke="#e9edf3" stroke-width="1.5"/>
<line x1="90" y1="745.7" x2="585" y2="745.7" stroke="#e9edf3" stroke-width="1.5"/>
<line x1="90" y1="792.4" x2="585" y2="792.4" stroke="#e9edf3" stroke-width="1.5"/>
<line x1="90" y1="839.1" x2="585" y2="839.1" stroke="#e9edf3" stroke-width="1.5"/>
<line x1="110.6" y1="605.6" x2="110.6" y2="839.2" stroke="#e9edf3" stroke-width="1.5"/>
<line x1="258.4" y1="605.6" x2="258.4" y2="839.2" stroke="#e9edf3" stroke-width="1.5"/>
<line x1="406.1" y1="605.6" x2="406.1" y2="839.2" stroke="#e9edf3" stroke-width="1.5"/>
<line x1="553.8" y1="605.6" x2="553.8" y2="839.2" stroke="#e9edf3" stroke-width="1.5"/>
<rect x="125.6" y="704.4" width="17.7" height="133.8" rx="3" fill="#228be6"/>
<rect x="146.15" y="717.6" width="17.7" height="120.6" rx="3" fill="#fa5252"/>
<rect x="166.7" y="757" width="17.7" height="81.2" rx="3" fill="#fd7e14"/>
<rect x="187.25" y="767.4" width="17.7" height="70.8" rx="3" fill="#12b886"/>
<rect x="207.8" y="757" width="17.7" height="81.2" rx="3" fill="#7950f2"/>
<rect x="273.4" y="725" width="17.7" height="113.2" rx="3" fill="#228be6"/>
<rect x="293.95" y="713.4" width="17.7" height="124.8" rx="3" fill="#fa5252"/>
<rect x="314.5" y="709" width="17.7" height="129.2" rx="3" fill="#fd7e14"/>
<rect x="335.05" y="700" width="17.7" height="138.2" rx="3" fill="#12b886"/>
<rect x="355.6" y="735" width="17.7" height="103.2" rx="3" fill="#7950f2"/>
<rect x="421.5" y="695.6" width="17.7" height="142.6" rx="3" fill="#228be6"/>
<rect x="442.05" y="713.2" width="17.7" height="125" rx="3" fill="#fa5252"/>
<rect x="462.6" y="726.4" width="17.7" height="111.8" rx="3" fill="#fd7e14"/>
<rect x="483.15" y="731" width="17.7" height="107.2" rx="3" fill="#12b886"/>
<rect x="503.7" y="726.4" width="17.7" height="111.8" rx="3" fill="#7950f2"/>
<rect x="569.8" y="819" width="17.7" height="19.2" rx="3" fill="#228be6"/>
<rect x="98.5" y="538.6" width="101" height="30" rx="5" fill="#fff" stroke="#dfe4ec" stroke-width="1.3"/><circle cx="115.4" cy="553.6" r="5.9" fill="#228be6"/>
<rect x="207.1" y="538.6" width="109.4" height="30" rx="5" fill="#fff" stroke="#dfe4ec" stroke-width="1.3"/><circle cx="223.6" cy="553.6" r="5.9" fill="#fa5252"/>
<rect x="324.5" y="538.6" width="107.6" height="30" rx="5" fill="#fff" stroke="#dfe4ec" stroke-width="1.3"/><circle cx="341" cy="553.6" r="5.9" fill="#fd7e14"/>
<rect x="440.1" y="538.6" width="105" height="30" rx="5" fill="#fff" stroke="#dfe4ec" stroke-width="1.3"/><circle cx="457" cy="553.6" r="5.9" fill="#12b886"/>
<rect x="553.1" y="538.6" width="109" height="30" rx="5" fill="#fff" stroke="#dfe4ec" stroke-width="1.3"/><circle cx="569.6" cy="553.6" r="5.9" fill="#7950f2"/>
</svg><span class="t" id="t59" style="left:113.16px;top:848.00px;font-size:13.6px;color:#8a94a6;-webkit-text-stroke:0.3px #8a94a6;transform:scaleX(1.0669);">Jan 2021</span>
<span class="t" id="t60" style="left:259.71px;top:848.00px;font-size:13.6px;color:#8a94a6;-webkit-text-stroke:0.3px #8a94a6;transform:scaleX(1.0502);">Feb 2021</span>
<span class="t" id="t61" style="left:407.68px;top:848.00px;font-size:13.6px;color:#8a94a6;-webkit-text-stroke:0.3px #8a94a6;transform:scaleX(1.0825);">Mar 2021</span>
<span class="t" id="t62" style="left:556.15px;top:848.00px;font-size:13.6px;color:#8a94a6;-webkit-text-stroke:0.3px #8a94a6;">Apr 2021</span>
<span class="t" id="t63" style="left:132.61px;top:545.00px;font-size:17.3px;color:#2f3847;-webkit-text-stroke:0.45px #2f3847;transform:scaleX(1.0181);">People</span>
<span class="t" id="t64" style="left:241.22px;top:545.00px;font-size:17.3px;color:#2f3847;-webkit-text-stroke:0.45px #2f3847;transform:scaleX(1.0123);">Process</span>
<span class="t" id="t65" style="left:358.19px;top:545.00px;font-size:17.3px;color:#2f3847;-webkit-text-stroke:0.45px #2f3847;transform:scaleX(1.0405);">Product</span>
<span class="t" id="t66" style="left:474.83px;top:545.00px;font-size:17.3px;color:#2f3847;-webkit-text-stroke:0.45px #2f3847;transform:scaleX(1.0127);">System</span>
<span class="t" id="t67" style="left:587.21px;top:545.00px;font-size:17.3px;color:#2f3847;-webkit-text-stroke:0.45px #2f3847;transform:scaleX(0.9541);">Culture</span></div></div>
<div class="panel" id="p3"><div class="in"><div style="position:absolute;left:1020px;top:429.3px;width:400px;height:13px;background:radial-gradient(ellipse 50% 100% at 45% 0,rgba(40,40,70,.055),rgba(40,40,70,0))"></div><svg class="l" viewBox="0 0 1600 900">
<line x1="1015" y1="525" x2="1291.6" y2="525" stroke="#eff1f5" stroke-width="1.2"/>
<line x1="1015" y1="608.3" x2="1291.6" y2="608.3" stroke="#eff1f5" stroke-width="1.2"/>
<line x1="1015" y1="691.7" x2="1291.6" y2="691.7" stroke="#eff1f5" stroke-width="1.2"/>
<line x1="1015" y1="775" x2="1291.6" y2="775" stroke="#eff1f5" stroke-width="1.2"/>
<line x1="1015" y1="858.3" x2="1291.6" y2="858.3" stroke="#eff1f5" stroke-width="1.2"/>
<line x1="1040" y1="525" x2="1040" y2="858.3" stroke="#eff1f5" stroke-width="1.2"/>
<line x1="1103.2" y1="525" x2="1103.2" y2="858.3" stroke="#eff1f5" stroke-width="1.2"/>
<line x1="1166.3" y1="525" x2="1166.3" y2="858.3" stroke="#eff1f5" stroke-width="1.2"/>
<line x1="1229.3" y1="525" x2="1229.3" y2="858.3" stroke="#eff1f5" stroke-width="1.2"/>
<line x1="1291.6" y1="525" x2="1291.6" y2="858.3" stroke="#eff1f5" stroke-width="1.2"/>
<polygon points="1000,607.8 1039.5,578.5 1072.9,578.5 1198.3,630.5 1229.3,645.5 1270,597 1291.6,602.7 1291.6,858.3 1000,858.3" fill="url(#ggreen)"/><polyline points="1000,607.8 1039.5,578.5 1072.9,578.5 1198.3,630.5 1229.3,645.5 1270,597 1291.6,602.7" fill="none" stroke="#12b886" stroke-width="2" stroke-linejoin="round"/><circle cx="1039.5" cy="578.5" r="3.1" fill="#fff" stroke="#12b886" stroke-width="1.6"/><circle cx="1072.9" cy="578.5" r="3.1" fill="#fff" stroke="#12b886" stroke-width="1.6"/><circle cx="1198.3" cy="630.5" r="3.1" fill="#fff" stroke="#12b886" stroke-width="1.6"/><circle cx="1229.3" cy="645.5" r="3.1" fill="#fff" stroke="#12b886" stroke-width="1.6"/><circle cx="1270" cy="597" r="3.1" fill="#fff" stroke="#12b886" stroke-width="1.6"/>
<polygon points="1000,841.9 1039.3,841.9 1072.7,824 1198.3,801 1229.2,777.9 1270,777.9 1291.6,777.9 1291.6,858.3 1000,858.3" fill="url(#gred)"/><polyline points="1000,841.9 1039.3,841.9 1072.7,824 1198.3,801 1229.2,777.9 1270,777.9 1291.6,777.9" fill="none" stroke="#fa5252" stroke-width="2" stroke-linejoin="round"/><circle cx="1039.3" cy="841.9" r="3.1" fill="#fff" stroke="#fa5252" stroke-width="1.6"/><circle cx="1072.7" cy="824" r="3.1" fill="#fff" stroke="#fa5252" stroke-width="1.6"/><circle cx="1198.3" cy="801" r="3.1" fill="#fff" stroke="#fa5252" stroke-width="1.6"/><circle cx="1229.2" cy="777.9" r="3.1" fill="#fff" stroke="#fa5252" stroke-width="1.6"/><circle cx="1270" cy="777.9" r="3.1" fill="#fff" stroke="#fa5252" stroke-width="1.6"/>
<polyline points="1000,824 1039.3,824 1072.7,857.6 1198.3,857.6 1229.2,826.7 1270,857.6 1291.6,857.6" fill="none" stroke="#fcc419" stroke-width="2" stroke-linejoin="round"/><circle cx="1039.3" cy="824" r="3.1" fill="#fff" stroke="#fcc419" stroke-width="1.6"/><circle cx="1072.7" cy="857.6" r="3.1" fill="#fff" stroke="#fcc419" stroke-width="1.6"/><circle cx="1198.3" cy="857.6" r="3.1" fill="#fff" stroke="#fcc419" stroke-width="1.6"/><circle cx="1229.2" cy="826.7" r="3.1" fill="#fff" stroke="#fcc419" stroke-width="1.6"/><circle cx="1270" cy="857.6" r="3.1" fill="#fff" stroke="#fcc419" stroke-width="1.6"/>
<path d="M1405.6,556.1 A70.9,70.9 0 0 1 1454.28,674.51 L1440.68,660.77 A51.6,51.6 0 0 0 1405.6,575.44 Z" fill="#12b886" stroke="#12b886" stroke-width="5.2" stroke-linejoin="round"/>
<path d="M1448.81,679.93 A70.9,70.9 0 0 1 1368.15,689.33 L1378.23,672.83 A51.6,51.6 0 0 0 1435.21,666.18 Z" fill="#fdc73f" stroke="#fdc73f" stroke-width="5.2" stroke-linejoin="round"/>
<path d="M1361.58,685.32 A70.9,70.9 0 0 1 1397.9,556.1 L1397.9,575.44 A51.6,51.6 0 0 0 1371.65,668.81 Z" fill="#fa5252" stroke="#fa5252" stroke-width="5.2" stroke-linejoin="round"/>
<rect x="1329.3" y="722.6" width="144.4" height="27.8" rx="3" fill="#fff" stroke="#e3e8f0" stroke-width="1.2"/><rect x="1336.2" y="729.4" width="14.3" height="14.3" rx="3.2" fill="#12b886"/>
<rect x="1329.3" y="758.05" width="144.4" height="27.8" rx="3" fill="#fff" stroke="#e3e8f0" stroke-width="1.2"/><rect x="1336.2" y="764.85" width="14.3" height="14.3" rx="3.2" fill="#fa5252"/>
<rect x="1329.3" y="793.5" width="144.4" height="27.8" rx="3" fill="#fff" stroke="#e3e8f0" stroke-width="1.2"/><rect x="1336.2" y="800.3" width="14.3" height="14.3" rx="3.2" fill="#fdc73f"/>
</svg><span class="t" id="t68" style="left:1040.19px;top:863.00px;font-size:8.8px;color:#9aa3b5;-webkit-text-stroke:0.4px #9aa3b5;transform:scaleX(0.9654);">9 MAR</span>
<span class="t" id="t69" style="left:1103.49px;top:863.00px;font-size:8.8px;color:#9aa3b5;-webkit-text-stroke:0.4px #9aa3b5;transform:scaleX(0.9741);">15 MAR</span>
<span class="t" id="t70" style="left:1166.39px;top:863.00px;font-size:8.8px;color:#9aa3b5;-webkit-text-stroke:0.4px #9aa3b5;transform:scaleX(0.9741);">21 MAR</span>
<span class="t" id="t71" style="left:1229.49px;top:863.00px;font-size:8.8px;color:#9aa3b5;-webkit-text-stroke:0.4px #9aa3b5;transform:scaleX(0.9741);">27 MAR</span>
<span class="t" id="t72" style="left:1376.90px;top:607.00px;font-size:27px;color:#2b3445;font-weight:700;transform:scaleX(1.0459);">308</span>
<span class="t" id="t73" style="left:1385.00px;top:637.80px;font-size:12.6px;color:#8a94a6;transform:scaleX(0.9611);">Cards</span>
<span class="t" id="t74" style="left:1357.90px;top:731.20px;font-size:10.7px;color:#2b3445;-webkit-text-stroke:0.4px #2b3445;transform:scaleX(0.9979);">Positive</span>
<span class="t" id="t75" style="left:1405.19px;top:731.20px;font-size:10.7px;color:#2b3445;-webkit-text-stroke:0.4px #2b3445;transform:scaleX(0.9405);">172</span>
<span class="t" id="t76" style="left:1430.60px;top:731.20px;font-size:10.7px;color:#8a94a6;transform:scaleX(0.9685);">(62.4%)</span>
<span class="t" id="t77" style="left:1357.90px;top:766.65px;font-size:10.7px;color:#2b3445;-webkit-text-stroke:0.4px #2b3445;transform:scaleX(0.9804);">Negative</span>
<span class="t" id="t78" style="left:1410.98px;top:766.65px;font-size:10.7px;color:#2b3445;-webkit-text-stroke:0.4px #2b3445;transform:scaleX(0.9235);">84</span>
<span class="t" id="t79" style="left:1430.60px;top:766.65px;font-size:10.7px;color:#8a94a6;transform:scaleX(0.9685);">(26.2%)</span>
<span class="t" id="t80" style="left:1357.90px;top:802.10px;font-size:10.7px;color:#2b3445;-webkit-text-stroke:0.4px #2b3445;transform:scaleX(0.9948);">Neutral</span>
<span class="t" id="t81" style="left:1410.98px;top:802.10px;font-size:10.7px;color:#2b3445;-webkit-text-stroke:0.4px #2b3445;transform:scaleX(0.9235);">49</span>
<span class="t" id="t82" style="left:1430.60px;top:802.10px;font-size:10.7px;color:#8a94a6;transform:scaleX(0.9685);">(12.1%)</span></div></div>
</body></html>
